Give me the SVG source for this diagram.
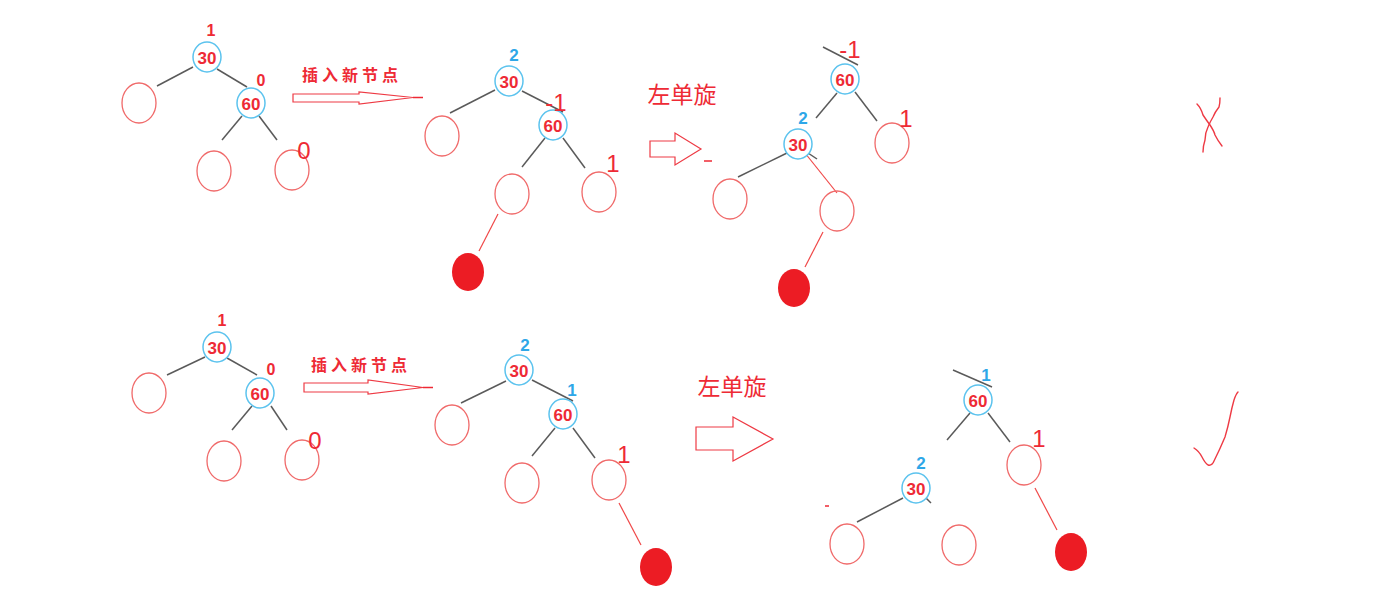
<svg xmlns="http://www.w3.org/2000/svg" width="1386" height="612" viewBox="0 0 1386 612">
<style>
.bg{fill:#ffffff}
.leaf{fill:none;stroke:#f06a6a;stroke-width:1.3}
.new{fill:#ec1c24;stroke:none}
.key{fill:#ffffff;stroke:#5cc3ee;stroke-width:1.5}
.e{stroke:#5a5a5a;stroke-width:1.5;fill:none}
.re{stroke:#f04848;stroke-width:1.2;fill:none}
.num{font-family:"Liberation Sans",Arial,sans-serif;font-weight:bold;font-size:17px;fill:#ee2a35;text-anchor:middle;dominant-baseline:central}
.bf{font-family:"Liberation Sans",Arial,sans-serif;font-weight:bold;font-size:16px;fill:#ee2a35;text-anchor:middle;dominant-baseline:central}
.bb{font-family:"Liberation Sans",Arial,sans-serif;font-weight:bold;font-size:17px;fill:#2ea7e8;text-anchor:middle;dominant-baseline:central}
.big{font-family:"Liberation Sans",Arial,sans-serif;font-size:24px;fill:#ee2a35;text-anchor:middle;dominant-baseline:central}
.cn{font-family:"Noto Sans CJK SC","Noto Sans",sans-serif;font-size:16px;font-weight:bold;fill:#ee2a35;text-anchor:middle;dominant-baseline:central;letter-spacing:4px}
.rot{font-family:"Noto Sans CJK SC","Noto Sans",sans-serif;font-size:23px;fill:#ee2a35;text-anchor:middle;dominant-baseline:central}
.arr{fill:#ffffff;stroke:#ee3a44;stroke-width:1.2}
.tick{stroke:#ee2a35;stroke-width:1.5;fill:none}
.mark{stroke:#ee3a44;stroke-width:1.4;fill:none;stroke-linecap:round;stroke-linejoin:round}
</style>
<rect class="bg" x="0" y="0" width="1386" height="612"/>

<g id="connectors">
  <!-- T1 -->
  <line class="e" x1="193" y1="67" x2="157" y2="86"/>
  <line class="e" x1="217" y1="69" x2="247" y2="87"/>
  <line class="e" x1="242" y1="116" x2="222" y2="140"/>
  <line class="e" x1="259" y1="116" x2="277" y2="140"/>
  <!-- T2 -->
  <line class="e" x1="495" y1="90" x2="450" y2="113"/>
  <line class="e" x1="522" y1="91" x2="563" y2="112"/>
  <line class="e" x1="545" y1="138" x2="522" y2="167"/>
  <line class="e" x1="563" y1="138" x2="585" y2="168"/>
  <line class="re" x1="498" y1="214" x2="479" y2="251"/>
  <!-- T3 -->
  <line class="e" x1="823" y1="47" x2="858" y2="65"/>
  <line class="e" x1="837" y1="93" x2="816" y2="118"/>
  <line class="e" x1="855" y1="92" x2="877" y2="121"/>
  <line class="e" x1="787" y1="153" x2="738" y2="177"/>
  <line class="e" x1="808" y1="153" x2="817" y2="159"/>
  <line class="re" x1="805" y1="153" x2="837" y2="193"/>
  <line class="re" x1="823" y1="232" x2="805" y2="267"/>
  <!-- B1 -->
  <line class="e" x1="205" y1="357" x2="167" y2="375"/>
  <line class="e" x1="227" y1="358" x2="257" y2="375"/>
  <line class="e" x1="252" y1="406" x2="232" y2="430"/>
  <line class="e" x1="271" y1="406" x2="287" y2="430"/>
  <!-- B2 -->
  <line class="e" x1="506" y1="381" x2="461" y2="403"/>
  <line class="e" x1="532" y1="380" x2="573" y2="401"/>
  <line class="e" x1="555" y1="428" x2="532" y2="456"/>
  <line class="e" x1="573" y1="428" x2="595" y2="458"/>
  <line class="re" x1="619" y1="503" x2="641" y2="545"/>
  <!-- B3 -->
  <line class="e" x1="953" y1="370" x2="992" y2="387"/>
  <line class="e" x1="970" y1="413" x2="947" y2="440"/>
  <line class="e" x1="988" y1="413" x2="1010" y2="442"/>
  <line class="re" x1="1035" y1="488" x2="1057" y2="530"/>
  <line class="e" x1="903" y1="498" x2="857" y2="522"/>
  <line class="e" x1="926" y1="498" x2="931" y2="503"/>
</g>

<!-- Top-left tree -->
<g id="t1-n30"><ellipse class="key" cx="207" cy="57" rx="14" ry="15"/><text class="num" x="207" y="58">30</text><text class="bf" x="211" y="30">1</text></g>
<g id="t1-left"><ellipse class="leaf" cx="139" cy="103" rx="17" ry="20"/></g>
<g id="t1-n60"><ellipse class="key" cx="251" cy="103" rx="14" ry="15"/><text class="num" x="251" y="104">60</text><text class="bf" x="261" y="80">0</text></g>
<g id="t1-ll"><ellipse class="leaf" cx="214" cy="171" rx="17" ry="20"/></g>
<g id="t1-lr"><ellipse class="leaf" cx="292" cy="170" rx="17" ry="20"/><text class="big" x="304" y="150">0</text></g>

<g id="arrow-insert-1">
  <text class="cn" x="352" y="74">插入新节点</text>
  <polygon class="arr" points="293,94 359,94 359,92 413,97.5 359,104 359,102 293,102"/>
  <line class="tick" x1="413" y1="97.5" x2="423" y2="97.5"/>
</g>

<!-- Top-middle tree -->
<g id="t2-n30"><ellipse class="key" cx="509" cy="81" rx="14" ry="15"/><text class="num" x="509" y="82">30</text><text class="bb" x="514" y="55">2</text></g>
<g id="t2-left"><ellipse class="leaf" cx="442" cy="136" rx="17" ry="20"/></g>
<g id="t2-n60"><ellipse class="key" cx="553" cy="125" rx="14" ry="15"/><text class="num" x="553" y="126">60</text><text class="big" x="556" y="102">-1</text></g>
<g id="t2-ll"><ellipse class="leaf" cx="512" cy="194" rx="17" ry="20"/></g>
<g id="t2-lr"><ellipse class="leaf" cx="599" cy="192" rx="17" ry="20"/><text class="big" x="613" y="163">1</text></g>
<g id="t2-new"><ellipse class="new" cx="468" cy="272" rx="16" ry="19"/></g>

<g id="arrow-rotate-1">
  <text class="rot" x="682" y="93">左单旋</text>
  <polygon class="arr" points="650,141 675,141 675,133 701,149 675,165 675,157 650,157"/>
  <line class="tick" x1="704" y1="161" x2="712" y2="161"/>
</g>

<!-- Top-right tree -->
<g id="t3-n60"><ellipse class="key" cx="845" cy="79" rx="14" ry="15"/><text class="num" x="845" y="80">60</text><text class="big" x="850" y="49">-1</text></g>
<g id="t3-n30"><ellipse class="key" cx="798" cy="144" rx="14" ry="15"/><text class="num" x="798" y="145">30</text><text class="bb" x="803" y="118">2</text></g>
<g id="t3-right"><ellipse class="leaf" cx="892" cy="143" rx="17" ry="20"/><text class="big" x="906" y="118">1</text></g>
<g id="t3-left"><ellipse class="leaf" cx="730" cy="199" rx="17" ry="20"/></g>
<g id="t3-mid"><ellipse class="leaf" cx="837" cy="211" rx="17" ry="20"/></g>
<g id="t3-new"><ellipse class="new" cx="794" cy="288" rx="16" ry="19"/></g>

<g id="mark-x">
  <path class="mark" d="M1197,104 Q1201,108 1203,115 Q1207,121 1210,125 Q1214,131 1215,135 Q1218,141 1222,146"/>
  <path class="mark" d="M1220,98 Q1220,104 1219,107 Q1215,112 1213,117 Q1210,122 1208,127 Q1205,133 1205,140 Q1203,146 1203,152"/>
</g>

<!-- Bottom-left tree -->
<g id="b1-n30"><ellipse class="key" cx="217" cy="347" rx="14" ry="15"/><text class="num" x="217" y="348">30</text><text class="bf" x="222" y="320">1</text></g>
<g id="b1-left"><ellipse class="leaf" cx="149" cy="393" rx="17" ry="20"/></g>
<g id="b1-n60"><ellipse class="key" cx="260" cy="393" rx="14" ry="15"/><text class="num" x="260" y="394">60</text><text class="bf" x="271" y="369">0</text></g>
<g id="b1-ll"><ellipse class="leaf" cx="224" cy="461" rx="17" ry="20"/></g>
<g id="b1-lr"><ellipse class="leaf" cx="302" cy="460" rx="17" ry="20"/><text class="big" x="315" y="440">0</text></g>

<g id="arrow-insert-2">
  <text class="cn" x="361" y="364">插入新节点</text>
  <polygon class="arr" points="304,383 368,383 368,380 423,387.5 368,394 368,392 304,392"/>
  <line class="tick" x1="423" y1="387.5" x2="433" y2="387.5"/>
</g>

<!-- Bottom-middle tree -->
<g id="b2-n30"><ellipse class="key" cx="519" cy="370" rx="14" ry="15"/><text class="num" x="519" y="371">30</text><text class="bb" x="525" y="345">2</text></g>
<g id="b2-left"><ellipse class="leaf" cx="452" cy="425" rx="17" ry="20"/></g>
<g id="b2-n60"><ellipse class="key" cx="563" cy="414" rx="14" ry="15"/><text class="num" x="563" y="415">60</text><text class="bb" x="572" y="390">1</text></g>
<g id="b2-ll"><ellipse class="leaf" cx="522" cy="483" rx="17" ry="20"/></g>
<g id="b2-lr"><ellipse class="leaf" cx="609" cy="480" rx="17" ry="20"/><text class="big" x="624" y="454">1</text></g>
<g id="b2-new"><ellipse class="new" cx="656" cy="567" rx="16" ry="19"/></g>

<g id="arrow-rotate-2">
  <text class="rot" x="732" y="385">左单旋</text>
  <polygon class="arr" points="696,427 733,427 733,417 773,439 733,461 733,450 696,450"/>
</g>

<!-- Bottom-right tree -->
<g id="b3-n60"><ellipse class="key" cx="978" cy="400" rx="14" ry="15"/><text class="num" x="978" y="401">60</text><text class="bb" x="986" y="375">1</text></g>
<g id="b3-right"><ellipse class="leaf" cx="1024" cy="465" rx="17" ry="20"/><text class="big" x="1039" y="438">1</text></g>
<g id="b3-new"><ellipse class="new" cx="1071" cy="552" rx="16" ry="19"/></g>
<g id="b3-n30"><ellipse class="key" cx="916" cy="488" rx="14" ry="15"/><text class="num" x="916" y="489">30</text><text class="bb" x="921" y="463">2</text></g>
<g id="b3-left"><ellipse class="leaf" cx="847" cy="544" rx="17" ry="20"/></g>
<g id="b3-mid"><ellipse class="leaf" cx="959" cy="545" rx="17" ry="20"/></g>
<line class="tick" x1="825" y1="506" x2="829" y2="506"/>

<g id="mark-check">
  <path class="mark" d="M1194,448 Q1199,451 1202,457 Q1205,463 1208,465 Q1212,466 1214,461 Q1220,449 1225,437 Q1228,427 1230,417 Q1232,407 1234,400 Q1236,394 1238,392"/>
</g>
</svg>
